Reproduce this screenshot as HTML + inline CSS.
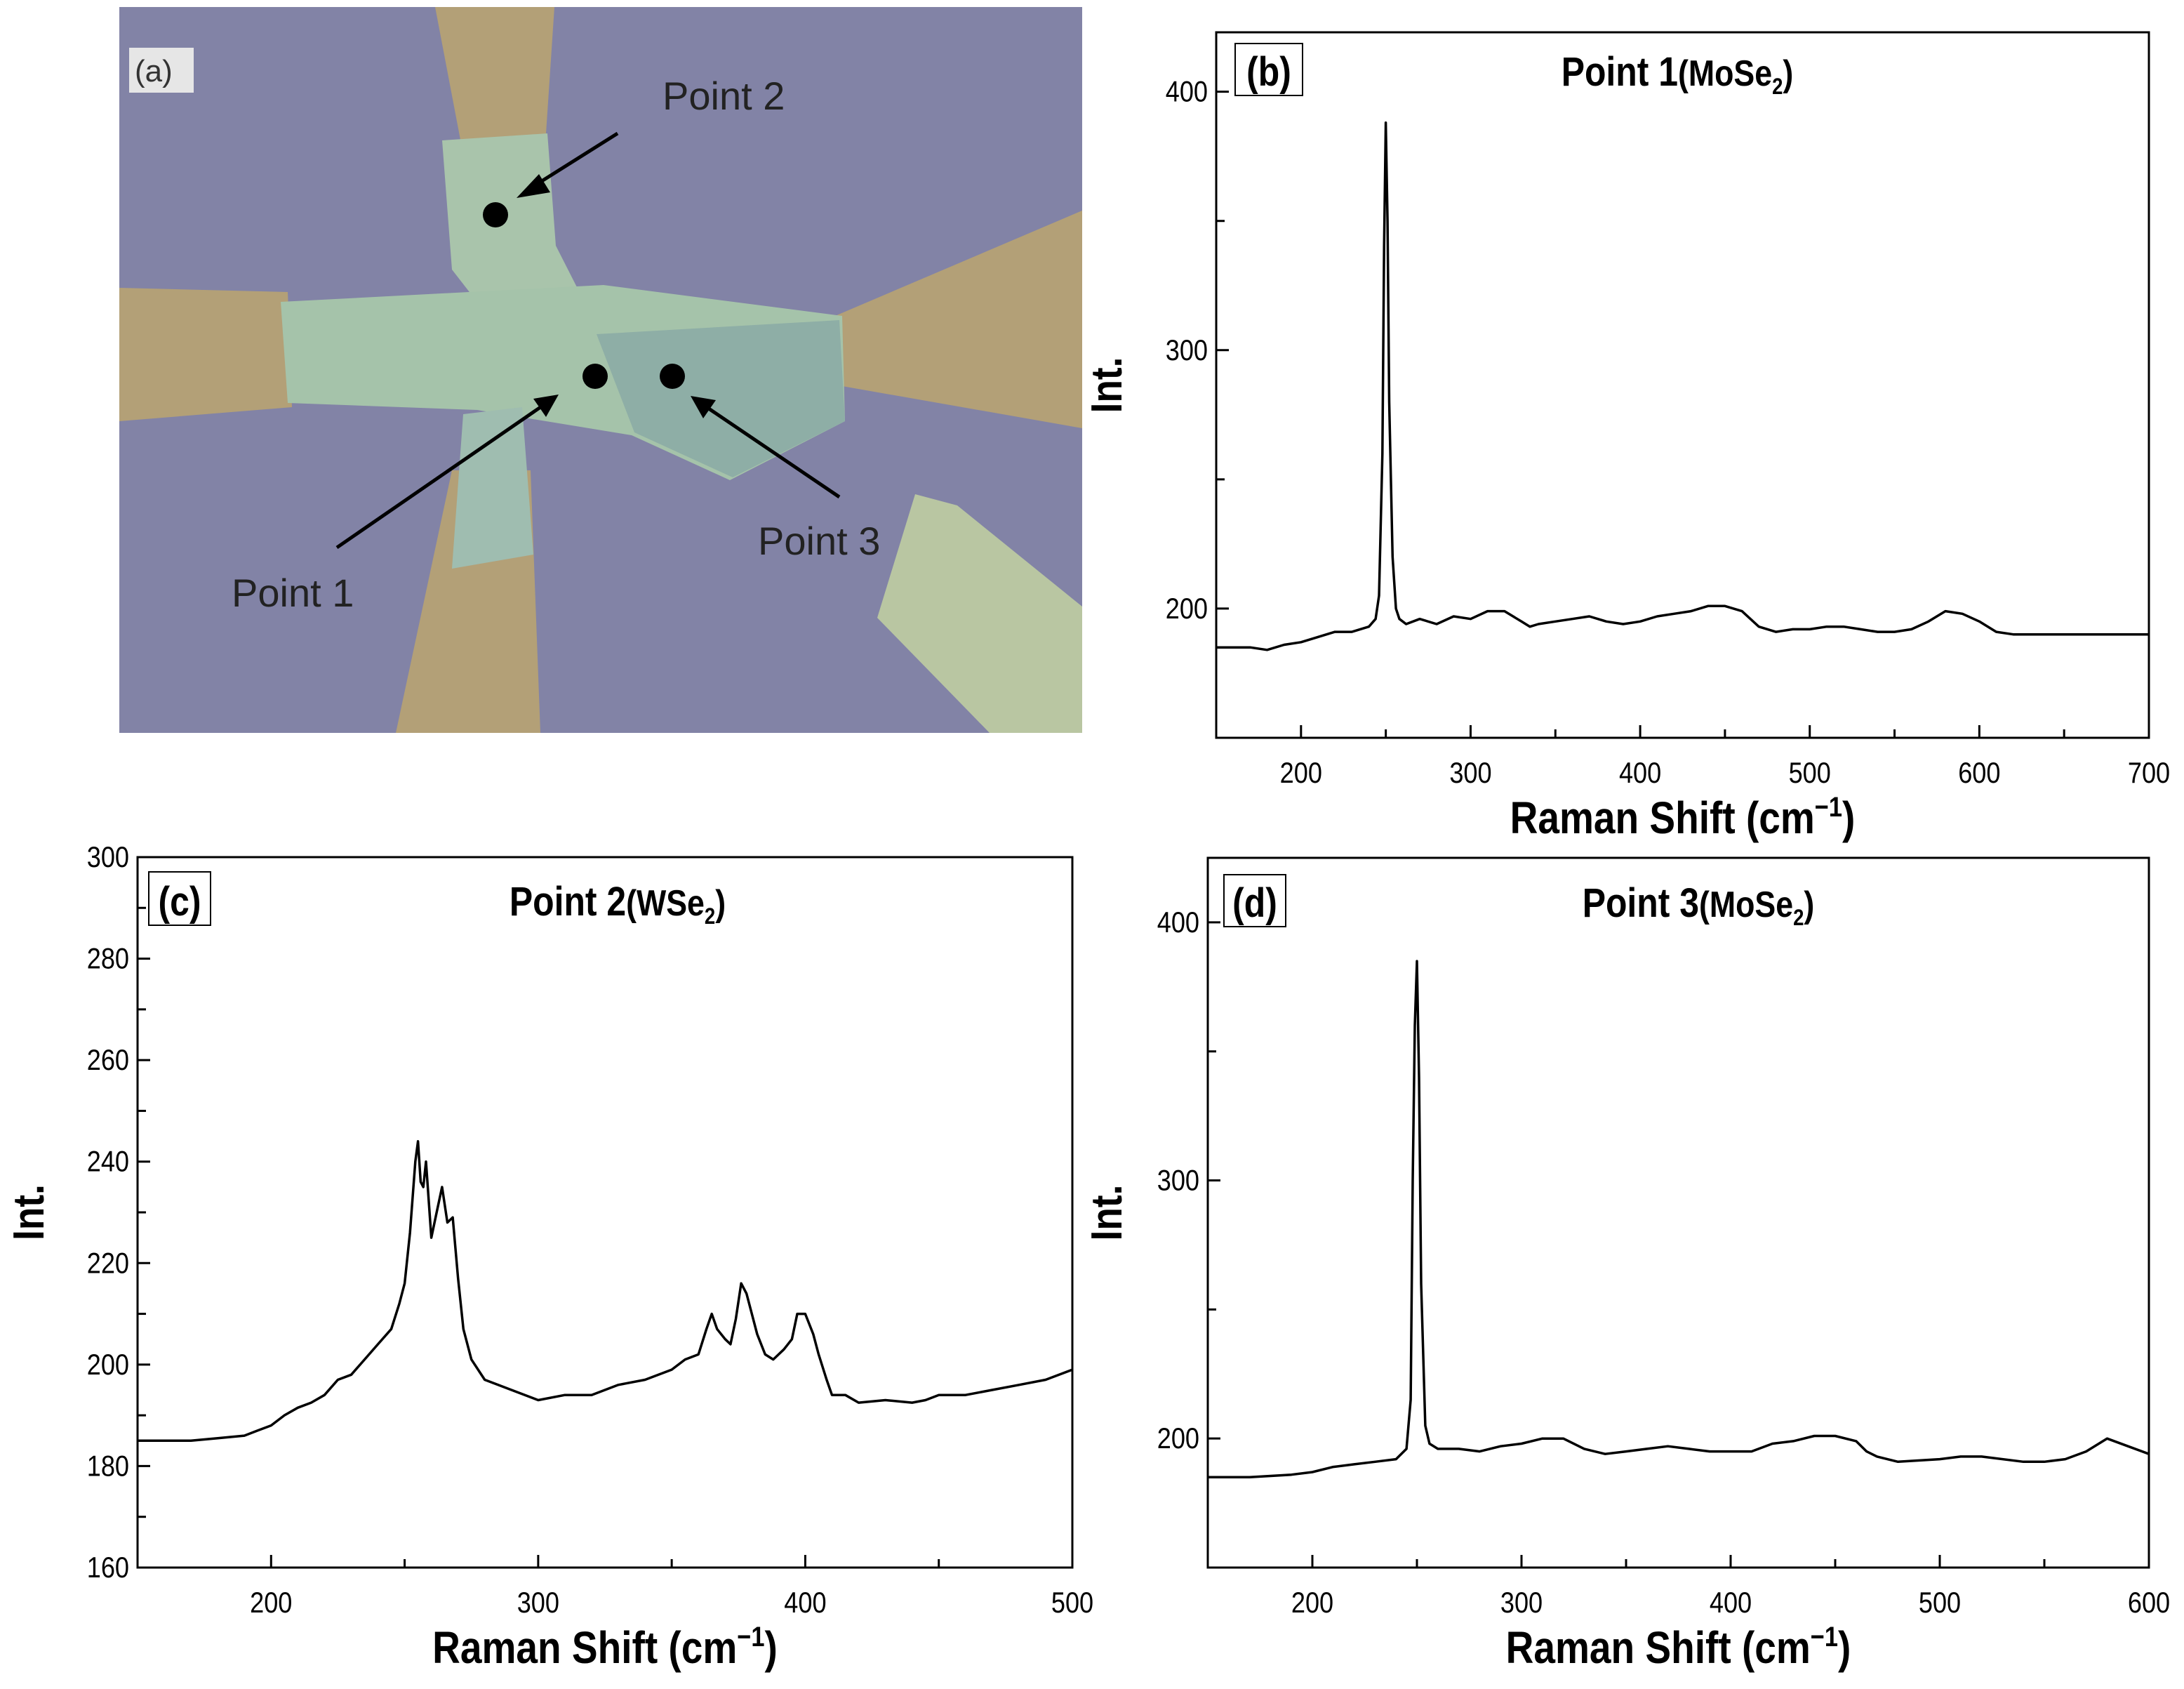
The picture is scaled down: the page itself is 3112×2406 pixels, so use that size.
<!DOCTYPE html>
<html><head><meta charset="utf-8">
<style>
html,body{margin:0;padding:0;background:#fff;}
svg{display:block;}
text{font-family:"Liberation Sans Narrow","Liberation Sans",sans-serif;}
</style></head>
<body>
<svg id="fig" width="3112" height="2406" viewBox="0 0 3112 2406" xmlns="http://www.w3.org/2000/svg">
<g id="photo" transform="scale(2)">
  <rect x="85" y="5" width="686" height="517" fill="#8283a6"/>
  <polygon points="310,5 395,5 388,110 330,110" fill="#b3a077"/>
  <polygon points="85,205 205,208 208,290 85,300" fill="#b3a077"/>
  <polygon points="595,225 771,150 771,305 600,275" fill="#b3a077"/>
  <polygon points="322,335 378,335 385,522 282,522" fill="#b3a077"/>
  <polygon points="315,100 390,95 396,175 425,232 350,228 322,192" fill="#a9c4ab"/>
  <polygon points="200,215 430,203 600,225 602,300 520,342 450,310 340,292 205,287" fill="#a5c3aa"/>
  <polygon points="425,238 598,228 602,300 522,340 452,308" fill="#8eaea6"/>
  <polygon points="330,295 372,290 380,395 322,405" fill="#9fbdb0"/>
  <polygon points="652,352 682,360 771,432 771,522 705,522 625,440" fill="#b9c6a2"/>
  <rect x="92" y="34" width="46" height="32" fill="#e6e6e6"/>
  <text x="96" y="58" font-size="22" fill="#333">(a)</text>
  <circle cx="353" cy="153" r="9" fill="#000"/>
  <circle cx="424" cy="268" r="9" fill="#000"/>
  <circle cx="479" cy="268" r="9" fill="#000"/>
  <line x1="440" y1="95" x2="378" y2="134" stroke="#000" stroke-width="2.5"/>
  <polygon points="368,141 384,124 392,137" fill="#000"/>
  <line x1="240" y1="390" x2="388" y2="288" stroke="#000" stroke-width="2.5"/>
  <polygon points="398,281 380,284 389,297" fill="#000"/>
  <line x1="598" y1="354" x2="502" y2="289" stroke="#000" stroke-width="2.5"/>
  <polygon points="492,282 510,285 501,298" fill="#000"/>
  <text x="472" y="78" font-size="28" fill="#222" style="font-family:'Liberation Sans',sans-serif">Point 2</text>
  <text x="165" y="432" font-size="28" fill="#222" style="font-family:'Liberation Sans',sans-serif">Point 1</text>
  <text x="540" y="395" font-size="28" fill="#222" style="font-family:'Liberation Sans',sans-serif">Point 3</text>
</g>
</svg>
<script>
// ---- Panel (b) data: Point 1 (MoSe2)
const bX=[150,160,170,180,190,200,210,220,230,240,244,246,248,249,250,251,252,254,256,258,262,270,280,290,300,310,320,330,335,340,350,360,370,380,390,400,410,420,430,440,450,460,470,480,490,500,510,520,530,540,550,560,570,580,590,600,610,620,630,650,670,690,700];
const bY=[185,185,185,184,186,187,189,191,191,193,196,205,260,340,388,350,280,220,200,196,194,196,194,197,196,199,199,195,193,194,195,196,197,195,194,195,197,198,199,201,201,199,193,191,192,192,193,193,192,191,191,192,195,199,198,195,191,190,190,190,190,190,190];
const bXTicks=[200,300,400,500,600,700];
const bYTicks=[200,300,400];
// ---- Panel (c) data: Point 2 (WSe2)
const cX=[150,160,170,180,190,195,200,205,210,215,220,225,230,235,240,245,248,250,252,254,255,256,257,258,260,262,264,266,268,270,272,275,280,285,290,300,310,320,330,340,350,355,360,363,365,367,370,372,374,376,378,380,382,385,388,390,392,395,397,400,403,405,408,410,415,420,430,440,445,450,460,470,480,490,500];
const cY=[185,185,185,185.5,186,187,188,190,191.5,192.5,194,197,198,201,204,207,212,216,226,240,244,236,235,240,225,230,235,228,229,217,207,201,197,196,195,193,194,194,196,197,199,201,202,207,210,207,205,204,209,216,214,210,206,202,201,202,203,205,210,210,206,202,197,194,194,192.5,193,192.5,193,194,194,195,196,197,199];
const cXTicks=[200,300,400,500];
const cYTicks=[160,180,200,220,240,260,280,300];
// ---- Panel (d) data: Point 3 (MoSe2)
const dX=[150,170,190,200,210,220,230,240,245,247,248,249,250,251,252,254,256,260,270,280,290,300,310,320,330,340,350,360,370,380,390,400,410,420,430,440,450,460,465,470,480,500,510,520,540,550,560,570,580,590,600];
const dY=[185,185,186,187,189,190,191,192,196,215,300,360,385,340,260,205,198,196,196,195,197,198,200,200,196,194,195,196,197,196,195,195,195,198,199,201,201,199,195,193,191,192,193,193,191,191,192,195,200,197,194];
const dXTicks=[200,300,400,500,600];
const dYTicks=[200,300,400];

const NS="http://www.w3.org/2000/svg";
const svg=document.getElementById('fig');
const SQ=0.86;
function mk(tag,attrs,parent){const e=document.createElementNS(NS,tag);for(const k in attrs)e.setAttribute(k,attrs[k]);(parent||svg).appendChild(e);return e;}
function sq(x){return 'translate('+x+' 0) scale('+SQ+' 1) translate('+(-x)+' 0)';}

function panel(key,box,xr,yr,xs,ys,xTicks,yTicks,xMinorStep,yMinorStep,label,titleMain,titleSub,titleCx,labelBox,yTitleX){
  const g=mk('g',{});
  
  
  const sx=v=>box.x0+(v-xr[0])/(xr[1]-xr[0])*(box.x1-box.x0);
  const sy=v=>box.y1-(v-yr[0])/(yr[1]-yr[0])*(box.y1-box.y0);
  const frame=mk('rect',{x:box.x0,y:box.y0,width:box.x1-box.x0,height:box.y1-box.y0,fill:'none',stroke:'#000','stroke-width':3},g);
  
  
  for(let v=Math.ceil(xr[0]/xMinorStep)*xMinorStep; v<=xr[1]; v+=xMinorStep){
    const major=xTicks.includes(v);
    const t=mk('line',{x1:sx(v),x2:sx(v),y1:box.y1,y2:box.y1-(major?18:12),stroke:'#000','stroke-width':3},g);
    
    
  }
  xTicks.forEach(v=>{
    const t=mk('text',{x:sx(v),y:box.y1+64,'font-size':42,'text-anchor':'middle',transform:sq(sx(v))},g);
    t.textContent=v;
    
    
  });
  for(let v=Math.ceil(yr[0]/yMinorStep)*yMinorStep; v<=yr[1]; v+=yMinorStep){
    const major=yTicks.includes(v);
    const t=mk('line',{x1:box.x0,x2:box.x0+(major?18:12),y1:sy(v),y2:sy(v),stroke:'#000','stroke-width':3},g);
    
    
  }
  yTicks.forEach(v=>{
    const t=mk('text',{x:box.x0-12,y:sy(v)+14,'font-size':42,'text-anchor':'end',transform:sq(box.x0-12)},g);
    t.textContent=v;
    
    
  });
  let d='';
  xs.forEach((x,i)=>{d+=(i?'L':'M')+sx(x).toFixed(1)+','+sy(ys[i]).toFixed(1);});
  const p=mk('path',{d:d,fill:'none',stroke:'#000','stroke-width':3.5,'stroke-linejoin':'round'},g);
  
  
  const xc=(box.x0+box.x1)/2;
  const xt=mk('text',{x:xc,y:box.y1+136,'font-size':64,'font-weight':'bold','text-anchor':'middle',transform:sq(xc)},g);
  xt.innerHTML='Raman Shift (cm<tspan font-size="40" dy="-24">−1</tspan><tspan dy="24">)</tspan>';
  
  
  const yc=(box.y0+box.y1)/2;
  const yt=mk('text',{x:yTitleX,y:yc,'font-size':62,'font-weight':'bold','text-anchor':'middle',transform:'rotate(-90 '+yTitleX+' '+yc+') '+sq(yTitleX)},g);
  yt.textContent='Int.';
  
  
  const lb=mk('rect',{x:labelBox[0],y:labelBox[1],width:labelBox[2],height:labelBox[3],fill:'none',stroke:'#000','stroke-width':2},g);
  
  
  const lcx=labelBox[0]+labelBox[2]/2;
  const lt=mk('text',{x:lcx,y:labelBox[1]+labelBox[3]-14,'font-size':58,'font-weight':'bold','text-anchor':'middle',transform:sq(lcx)},g);
  lt.textContent=label;
  
  
  const tt=mk('text',{x:titleCx,y:labelBox[1]+labelBox[3]-14,'font-size':58,'font-weight':'bold','text-anchor':'middle',transform:sq(titleCx)},g);
  tt.innerHTML=titleMain+'<tspan font-size="52">(</tspan><tspan font-size="52">'+titleSub+'</tspan><tspan font-size="32" dy="12">2</tspan><tspan font-size="52" dy="-12">)</tspan>';
  
  
}
panel('b',{x0:1733,x1:3062,y0:46,y1:1051},[150,700],[150,423],bX,bY,bXTicks,bYTicks,50,50,'(b)','Point 1','MoSe',2390,[1760,62,96,74],1598);
panel('c',{x0:196,x1:1528,y0:1221,y1:2233},[150,500],[160,300],cX,cY,cXTicks,cYTicks,50,10,'(c)','Point 2','WSe',880,[212,1242,88,76],62);
panel('d',{x0:1721,x1:3062,y0:1222,y1:2233},[150,600],[150,425],dX,dY,dXTicks,dYTicks,50,50,'(d)','Point 3','MoSe',2420,[1744,1246,88,74],1598);
</script>
</body></html>
